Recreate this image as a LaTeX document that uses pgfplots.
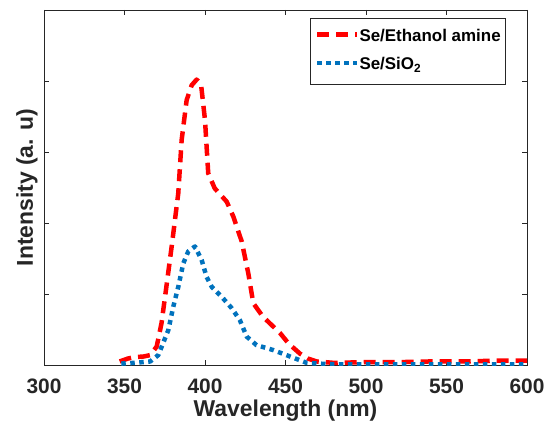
\documentclass[border=0pt]{standalone}
\usepackage{fontspec}
\setmainfont{Liberation Sans}
\usepackage{pgfplots}
\pgfplotsset{compat=1.18}
\definecolor{mred}{RGB}{255,0,0}
\definecolor{mblue}{RGB}{0,114,189}
\definecolor{axgray}{RGB}{38,38,38}
\begin{document}
\begin{tikzpicture}
\path[use as bounding box] (-44bp,-69bp) rectangle (506bp,365bp);
\begin{axis}[
  scale only axis, width=483bp, height=355bp,
  xmin=300, xmax=600, ymin=0, ymax=5,
  xtick={300,350,...,600}, ytick={0,1,...,5}, yticklabels={},
  tick align=inside, major tick length=5bp,
  axis line style={axgray, line width=0.6bp},
  every tick/.style={axgray, line width=0.6bp},
  /pgf/number format/assume math mode=true,
  /pgf/number format/1000 sep={},
  tick label style={font=\bfseries\fontsize{21}{24}\selectfont, text=axgray},
  x tick label style={anchor=base, yshift=-28bp},
  xlabel={Wavelength (nm)},
  xlabel style={font=\bfseries\fontsize{23}{26}\selectfont, text=axgray, at={(axis description cs:0.5,-0.1456)}, anchor=base},
  ylabel={Intensity (a. u)},
  ylabel style={font=\bfseries\fontsize{23}{26}\selectfont, text=axgray, at={(axis description cs:-0.0228,0.5)}, anchor=base},
  legend style={at={(axis description cs:0.9565,0.9775)}, anchor=north east, draw=axgray, line width=0.6bp,
    inner xsep=5bp, inner ysep=11bp, row sep=12.5bp, cells={anchor=west},
    nodes={inner sep=0bp, text height=12bp, text depth=4bp, font=\bfseries\fontsize{17}{20}\selectfont, text=black}},
  legend image code/.code={\draw[#1] (0bp,3bp) -- (33bp,3bp); \path (0bp,3bp) -- (40bp,3bp);},
]
\addplot[mred, line width=4.5bp, dash pattern=on 12bp off 7bp, line cap=butt, line join=round] coordinates {
(347,0.05) (352,0.09) (356,0.11) (362,0.12) (366,0.14) (370,0.26) (373,0.59) (376,1.10)
(379.3,1.67) (383.4,2.42) (385.5,3.17) (388.6,3.73) (391.7,3.94) (394.8,4.02) (397.5,3.96)
(400,3.45) (402,2.70) (406,2.49) (413.5,2.30) (417.6,2.09) (422.8,1.74) (426.9,1.29)
(430,0.87) (436,0.68) (446.6,0.45) (452,0.30) (459,0.16) (464,0.09) (469.4,0.05)
(480,0.03) (500,0.04) (520,0.04) (540,0.05) (560,0.05) (580,0.06) (600,0.06)
};
\addlegendentry{Se/Ethanol amine}
\addplot[mblue, line width=4.5bp, dash pattern=on 4.5bp off 4.5bp, line cap=butt, line join=round] coordinates {
(348,0.02) (356,0.03) (366,0.05) (371,0.14) (374,0.31) (377.2,0.49) (380.3,0.82) (383.4,1.10)
(386.5,1.43) (389.6,1.60) (393.8,1.67) (397.9,1.48) (401,1.24) (404.2,1.10) (410.4,0.96)
(416.6,0.80) (421.7,0.63) (425.9,0.40) (432,0.28) (442.4,0.21) (452.8,0.12) (463.2,0.03)
(470,0.02) (480,0.01) (600,0.01)
};
\addlegendentry{Se/SiO\textsubscript{2}}
\end{axis}
\end{tikzpicture}
\end{document}
